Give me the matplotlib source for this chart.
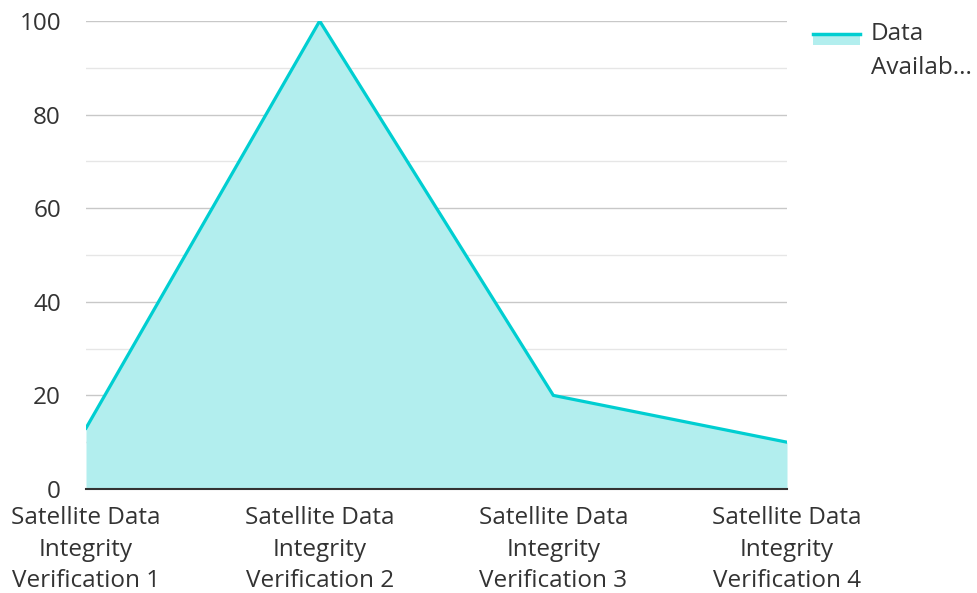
import matplotlib
matplotlib.use("Agg")
import matplotlib.pyplot as plt
from matplotlib.ticker import MultipleLocator
from matplotlib.patches import Rectangle
from matplotlib.lines import Line2D

categories = [
    "Satellite Data\nIntegrity\nVerification 1",
    "Satellite Data\nIntegrity\nVerification 2",
    "Satellite Data\nIntegrity\nVerification 3",
    "Satellite Data\nIntegrity\nVerification 4",
]
values = [13, 100, 20, 10]
series_name = "Data\nAvailab..."

plt.rcParams["font.family"] = ["Open Sans", "DejaVu Sans"]

line_color = "#00CED1"
fill_color = "#B2EEEE"
text_color = "#333333"
font_size = 17.5

W, H = 977, 593
fig = plt.figure(figsize=(W / 100, H / 100), dpi=100)
ax = fig.add_axes([86 / W, 1 - 489 / H, (787 - 86) / W, (489 - 21) / H])

x = list(range(len(categories)))
ax.fill_between(x, values, 0, color=fill_color, linewidth=0, zorder=2)
ax.plot(x, values, color=line_color, linewidth=2.3, zorder=3)

ax.set_xlim(0, len(categories) - 1)
ax.set_ylim(0, 100)
ax.yaxis.set_major_locator(MultipleLocator(20))
ax.yaxis.set_minor_locator(MultipleLocator(10))
ax.grid(which="major", axis="y", color="#c8c8c8", linewidth=1, zorder=1)
ax.grid(which="minor", axis="y", color="#e6e6e6", linewidth=1, zorder=1)
ax.set_axisbelow(True)

ax.set_xticks(x)
ax.set_xticklabels(categories, fontsize=font_size, color=text_color, linespacing=1.42)
ax.tick_params(axis="x", length=0, pad=12.5)
ax.tick_params(axis="y", which="both", length=0, pad=18,
               labelsize=font_size, labelcolor=text_color)

for side in ("top", "right", "left"):
    ax.spines[side].set_visible(False)
ax.spines["bottom"].set_color(text_color)
ax.spines["bottom"].set_linewidth(1.5)
ax.spines["bottom"].set_zorder(4)

# legend: area swatch with its line on top, label wrapped onto two lines
def fx(px):
    return px / W


def fy(py):
    return 1 - py / H


fig.add_artist(Rectangle((fx(813), fy(45)), fx(860) - fx(813), fy(33) - fy(45),
                         transform=fig.transFigure, facecolor=fill_color,
                         edgecolor="none"))
fig.add_artist(Line2D([fx(813), fx(860)], [fy(34), fy(34)],
                      transform=fig.transFigure, color=line_color, linewidth=2.5))
fig.text(fx(871), fy(22), series_name, ha="left", va="top",
         fontsize=font_size, color=text_color, linespacing=1.58)

fig.savefig("out.png", dpi=100)
